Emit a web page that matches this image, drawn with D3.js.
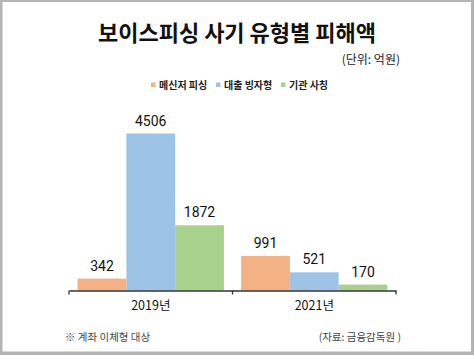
<!DOCTYPE html>
<html><head><meta charset="utf-8">
<script src="https://cdn.jsdelivr.net/npm/d3@7"></script>
<style>
html,body{margin:0;padding:0;background:#fff;}
svg{display:block;font-family:"Noto Sans CJK KR","Noto Sans",sans-serif;}
</style></head>
<body>
<svg id="c" width="474" height="355"></svg>
<script>
const categories = ["2019년", "2021년"];
const seriesNames = ["메신저 피싱", "대출 빙자형", "기관 사칭"];
const messenger = [342, 991];
const loan = [4506, 521];
const agency = [1872, 170];
const colors = ["#f4b183", "#9dc3e6", "#a9d18e"];

const svg = d3.select("#c");
// frame
svg.append("rect").attr("x",0).attr("y",0).attr("width",474).attr("height",355).attr("fill","#b4b4b4");
svg.append("rect").attr("x",2.5).attr("y",2).attr("width",468.5).attr("height",349.5).attr("fill","#fff");

svg.append("text").attr("x",237).attr("y",41).attr("text-anchor","middle")
  .attr("font-size",22).attr("font-weight",700).attr("fill","#111").text("보이스피싱 사기 유형별 피해액");
svg.append("text").attr("x",400).attr("y",64).attr("text-anchor","end")
  .attr("font-size",12).attr("fill","#222").text("(단위: 억원)");

// legend
const legX = [151, 216, 281];
const leg = svg.append("g");
seriesNames.forEach((n,i)=>{
  leg.append("rect").attr("x",legX[i]).attr("y",82.5).attr("width",4.5).attr("height",4.5).attr("fill",colors[i]);
  leg.append("text").attr("x",legX[i]+8).attr("y",88.5).attr("font-size",10).attr("font-weight",700)
    .attr("fill","#222").text(n);
});

const x0 = d3.scaleBand().domain(categories).range([69, 396]).paddingInner(0).paddingOuter(0);
const x1 = d3.scaleBand().domain(seriesNames).range([8.6, x0.bandwidth()-8.6]);
const y = d3.scaleLinear().domain([0, 4506]).range([290.5, 133.5]);

const data = categories.map((c,ci)=>({cat:c, vals:[messenger[ci], loan[ci], agency[ci]]}));
const g = svg.append("g");
data.forEach(d=>{
  d.vals.forEach((v,i)=>{
    const bx = x0(d.cat)+x1(seriesNames[i]);
    g.append("rect").attr("x",bx).attr("y",y(v)).attr("width",x1.bandwidth()).attr("height",y(0)-y(v)).attr("fill",colors[i]);
    g.append("text").attr("x",bx+x1.bandwidth()/2).attr("y",y(v)-8).attr("text-anchor","middle")
      .attr("font-size",14).attr("fill","#111").attr("font-family","Roboto, 'Noto Sans', sans-serif").text(v);
  });
});

const axis = d3.axisBottom(x0).tickSize(0).tickPadding(11);
const ag = svg.append("g").attr("transform","translate(0,290.5)").call(axis);
ag.select(".domain").attr("stroke","#333").attr("stroke-width",1.3);
ag.selectAll(".tick text").attr("font-size",12.5).attr("fill","#111").attr("font-family","'Noto Sans CJK KR', sans-serif");
// boundary ticks
[69, 232.5, 396].forEach(tx=>{
  ag.append("line").attr("x1",tx).attr("x2",tx).attr("y1",0).attr("y2",4).attr("stroke","#333").attr("stroke-width",1.3);
});

svg.append("text").attr("x",65).attr("y",341).attr("font-size",10.5).attr("fill","#444").text("※ 계좌 이체형 대상");
svg.append("text").attr("x",401).attr("y",341).attr("text-anchor","end").attr("font-size",10.5).attr("fill","#444").text("(자료: 금융감독원 )");
</script>
</body></html>
